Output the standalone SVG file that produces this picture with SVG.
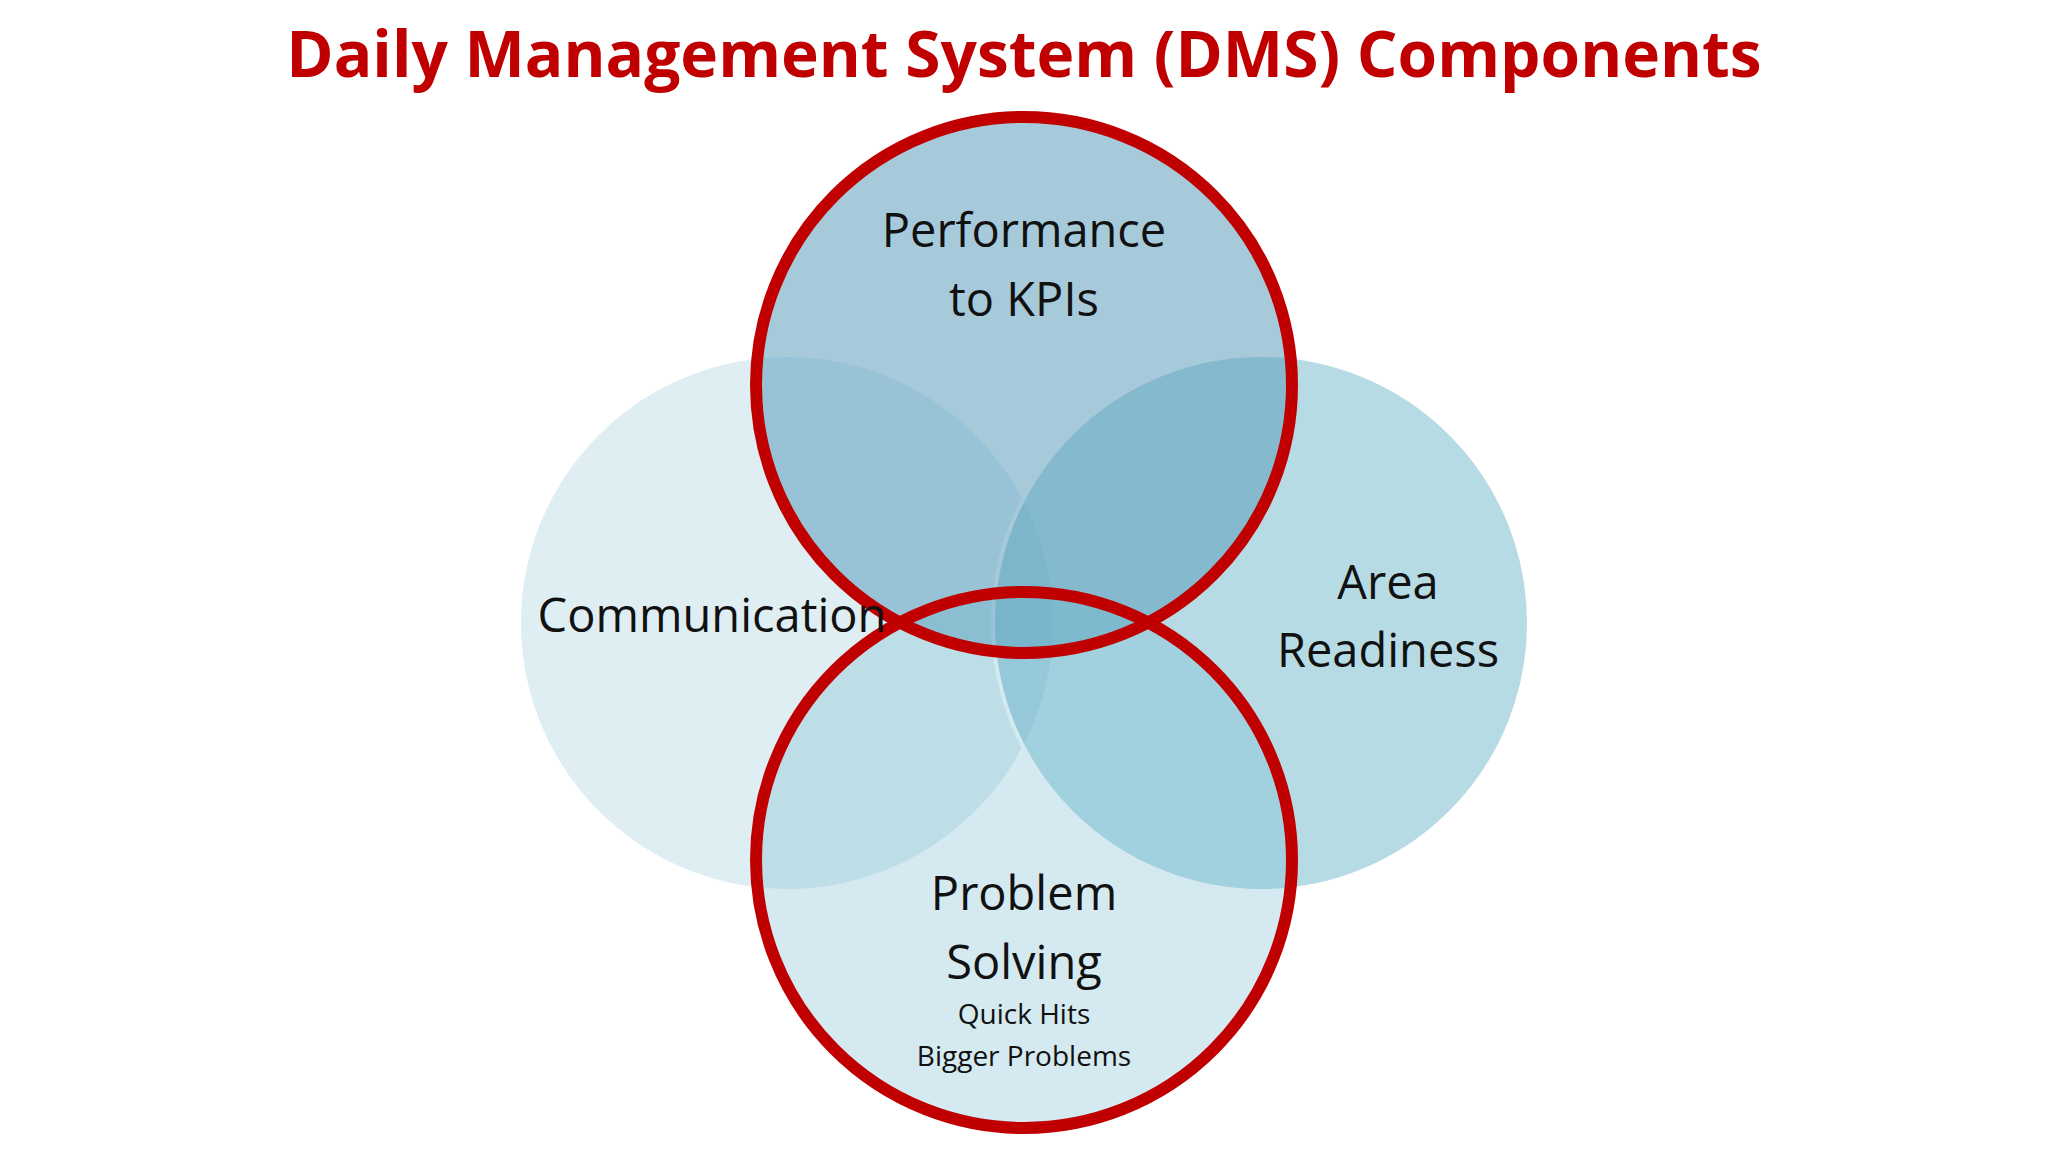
<svg xmlns="http://www.w3.org/2000/svg" width="2048" height="1152" viewBox="0 0 2048 1152">
<style>
.t{font-family:"Open Sans","Liberation Sans",sans-serif;fill:#111;text-anchor:middle;dominant-baseline:central}
.big{font-size:47px}
.sm{font-size:28px}
.red{fill:none;stroke:#C00000;stroke-width:12}
.wh{stroke:#fff;stroke-width:4}
</style>
<rect width="2048" height="1152" fill="#fff"/>
<text x="1024" y="52" font-family="Open Sans, Liberation Sans, sans-serif" font-weight="bold" font-size="64" fill="#C00000" text-anchor="middle" dominant-baseline="central">Daily Management System (DMS) Components</text>
<g id="communication"><circle cx="787" cy="623" r="268" fill="#5FA8C4" fill-opacity="0.2" class="wh"/></g>
<g id="area-readiness"><circle cx="1261" cy="623" r="268" fill="#5FB0C6" fill-opacity="0.45" class="wh"/></g>
<g id="performance"><circle cx="1024" cy="385" r="268" fill="#5C9FBB" fill-opacity="0.55"/></g>
<g id="problem-solving"><circle cx="1024" cy="860" r="268" fill="#6FB6CC" fill-opacity="0.3"/></g>
<g id="rings">
<circle cx="1024" cy="385" r="268" class="red"/>
<circle cx="1024" cy="860" r="268" class="red"/>
</g>
<text class="t big" x="1024" y="229">Performance</text>
<text class="t big" x="1024" y="298">to KPIs</text>
<text class="t big" x="712" y="614">Communication</text>
<text class="t big" x="1388" y="581">Area</text>
<text class="t big" x="1388" y="649">Readiness</text>
<text class="t big" x="1024" y="892">Problem</text>
<text class="t big" x="1024" y="961">Solving</text>
<text class="t sm" x="1024" y="1013">Quick Hits</text>
<text class="t sm" x="1024" y="1055">Bigger Problems</text>
</svg>
